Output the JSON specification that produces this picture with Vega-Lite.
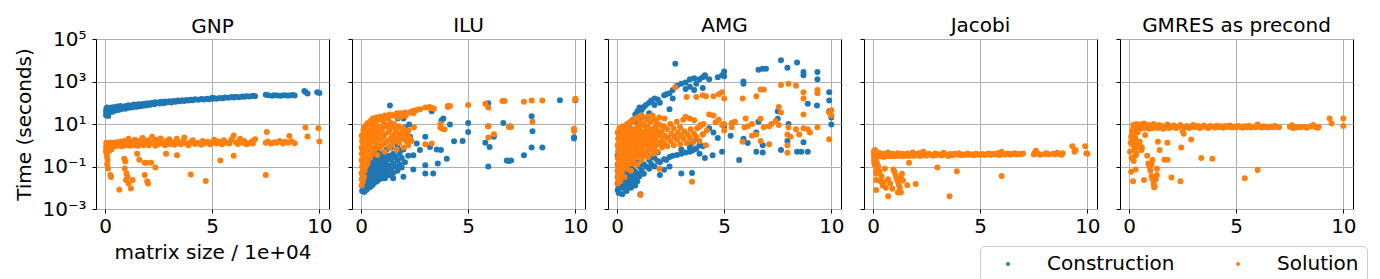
{
"$schema": "https://vega.github.io/schema/vega-lite/v6.json",
"padding": {"left": 14, "top": 15, "right": 5, "bottom": 5},
"background": "white",
"bounds": "flush",
"spacing": 23,
"config": {
  "font": "DejaVu Sans",
  "view": {"stroke": "#000000", "strokeWidth": 1},
  "axis": {"labelFontSize": 20, "titleFontSize": 20, "titleFontWeight": "normal", "labelColor": "#000000", "titleColor": "#000000", "tickColor": "#000000", "tickSize": 4, "tickWidth": 1, "domain": false, "grid": true, "gridColor": "#b0b0b0", "gridWidth": 1, "labelFlush": false, "labelPadding": 3, "titlePadding": 6},
  "axisY": {"labelPadding": 6, "titlePadding": 7},
  "title": {"fontSize": 20, "fontWeight": "normal", "color": "#000000", "offset": 3},
  "legend": {"orient": "none", "legendX": 884, "legendY": 207, "direction": "horizontal", "columns": 2, "labelFontSize": 20, "labelColor": "#000000", "symbolSize": 16, "symbolType": "circle", "labelOffset": 29, "columnPadding": 43, "padding": 8, "strokeColor": "#cccccc", "cornerRadius": 4, "fillColor": "white", "symbolOffset": 10, "titlePadding": 0}
},
"datasets": {
"gnp": [
{"s":"C","x":0.05,"y":26},{"s":"C","x":0.05,"y":38},{"s":"C","x":0.06,"y":52},{"s":"C","x":0.08,"y":30},{"s":"C","x":0.1,"y":44},{"s":"C","x":0.1,"y":60},{"s":"C","x":0.12,"y":34},{"s":"C","x":0.15,"y":48},{"s":"C","x":0.15,"y":24},{"s":"C","x":0.18,"y":40},{"s":"C","x":0.2,"y":55},{"s":"C","x":0.22,"y":36},{"s":"C","x":0.25,"y":46},{"s":"C","x":0.28,"y":58},{"s":"C","x":0.3,"y":42},{"s":"C","x":0.32,"y":50},{"s":"C","x":0.35,"y":38},{"s":"C","x":0.38,"y":62},{"s":"C","x":0.4,"y":46},{"s":"C","x":0.42,"y":54},{"s":"C","x":0.45,"y":42},{"s":"C","x":0.5,"y":58},{"s":"C","x":0.52,"y":48},{"s":"C","x":0.55,"y":66},{"s":"C","x":0.6,"y":52},{"s":"C","x":0.62,"y":45},{"s":"C","x":0.65,"y":60},{"s":"C","x":0.7,"y":54},{"s":"C","x":0.72,"y":70},{"s":"C","x":0.75,"y":50},{"s":"C","x":0.8,"y":62},{"s":"C","x":0.85,"y":56},{"s":"C","x":0.9,"y":66},{"s":"C","x":0.95,"y":52},{"s":"C","x":1.0,"y":70},{"s":"C","x":1.05,"y":60},{"s":"C","x":1.1,"y":76},{"s":"C","x":1.15,"y":58},{"s":"C","x":1.2,"y":66},{"s":"C","x":1.25,"y":72},{"s":"C","x":1.3,"y":62},{"s":"C","x":1.35,"y":82},{"s":"C","x":1.4,"y":68},{"s":"C","x":1.45,"y":74},{"s":"C","x":1.5,"y":64},{"s":"C","x":1.55,"y":84},{"s":"C","x":1.6,"y":72},{"s":"C","x":1.65,"y":68},{"s":"C","x":1.7,"y":86},{"s":"C","x":1.75,"y":78},{"s":"C","x":1.8,"y":72},{"s":"C","x":1.85,"y":90},{"s":"C","x":1.9,"y":82},{"s":"C","x":1.95,"y":76},{"s":"C","x":2.0,"y":95},{"s":"C","x":2.05,"y":85},{"s":"C","x":2.1,"y":80},{"s":"C","x":2.2,"y":100},{"s":"C","x":2.25,"y":90},{"s":"C","x":2.3,"y":85},{"s":"C","x":2.35,"y":105},{"s":"C","x":2.4,"y":94},{"s":"C","x":2.5,"y":100},{"s":"C","x":2.55,"y":92},{"s":"C","x":2.6,"y":110},{"s":"C","x":2.7,"y":104},{"s":"C","x":2.75,"y":96},{"s":"C","x":2.8,"y":115},{"s":"C","x":2.9,"y":106},{"s":"C","x":3.0,"y":118},{"s":"C","x":3.05,"y":108},{"s":"C","x":3.1,"y":102},{"s":"C","x":3.2,"y":120},{"s":"C","x":3.3,"y":112},{"s":"C","x":3.4,"y":126},{"s":"C","x":3.5,"y":118},{"s":"C","x":3.6,"y":130},{"s":"C","x":3.7,"y":122},{"s":"C","x":3.8,"y":135},{"s":"C","x":3.9,"y":127},{"s":"C","x":4.0,"y":140},{"s":"C","x":4.1,"y":132},{"s":"C","x":4.2,"y":146},{"s":"C","x":4.35,"y":138},{"s":"C","x":4.5,"y":150},{"s":"C","x":4.6,"y":142},{"s":"C","x":4.75,"y":156},{"s":"C","x":4.85,"y":148},{"s":"C","x":5.0,"y":172},{"s":"C","x":5.0,"y":154},{"s":"C","x":5.1,"y":164},{"s":"C","x":5.2,"y":154},{"s":"C","x":5.35,"y":168},{"s":"C","x":5.5,"y":162},{"s":"C","x":5.6,"y":176},{"s":"C","x":5.75,"y":170},{"s":"C","x":5.9,"y":184},{"s":"C","x":6.0,"y":178},{"s":"C","x":6.1,"y":192},{"s":"C","x":6.25,"y":182},{"s":"C","x":6.4,"y":198},{"s":"C","x":6.5,"y":190},{"s":"C","x":6.6,"y":202},{"s":"C","x":6.75,"y":196},{"s":"C","x":6.9,"y":212},{"s":"C","x":7.0,"y":202},{"s":"C","x":7.5,"y":240},{"s":"C","x":7.6,"y":228},{"s":"C","x":7.8,"y":215},{"s":"C","x":7.9,"y":225},{"s":"C","x":8.05,"y":218},{"s":"C","x":8.2,"y":214},{"s":"C","x":8.35,"y":226},{"s":"C","x":8.5,"y":220},{"s":"C","x":8.6,"y":222},{"s":"C","x":8.75,"y":232},{"s":"C","x":8.85,"y":218},{"s":"C","x":9.3,"y":360},{"s":"C","x":9.35,"y":320},{"s":"C","x":9.45,"y":270},{"s":"C","x":9.9,"y":310},{"s":"C","x":10.0,"y":285},
{"s":"S","x":0.05,"y":0.5},{"s":"S","x":0.05,"y":0.85},{"s":"S","x":0.06,"y":1.3},{"s":"S","x":0.08,"y":0.6},{"s":"S","x":0.1,"y":1.0},{"s":"S","x":0.12,"y":0.7},{"s":"S","x":0.15,"y":1.2},{"s":"S","x":0.15,"y":0.9},{"s":"S","x":0.2,"y":0.55},{"s":"S","x":0.2,"y":1.1},{"s":"S","x":0.25,"y":0.85},{"s":"S","x":0.28,"y":1.35},{"s":"S","x":0.3,"y":0.65},{"s":"S","x":0.32,"y":1.0},{"s":"S","x":0.35,"y":1.05},{"s":"S","x":0.4,"y":1.3},{"s":"S","x":0.45,"y":0.9},{"s":"S","x":0.5,"y":1.1},{"s":"S","x":0.55,"y":1.4},{"s":"S","x":0.6,"y":0.95},{"s":"S","x":0.65,"y":1.2},{"s":"S","x":0.7,"y":1.05},{"s":"S","x":0.75,"y":1.5},{"s":"S","x":0.8,"y":0.9},{"s":"S","x":0.85,"y":1.2},{"s":"S","x":0.9,"y":1.6},{"s":"S","x":0.95,"y":1.0},{"s":"S","x":1.0,"y":1.3},{"s":"S","x":1.05,"y":1.1},{"s":"S","x":1.1,"y":2.0},{"s":"S","x":1.15,"y":0.95},{"s":"S","x":1.2,"y":1.25},{"s":"S","x":1.3,"y":1.5},{"s":"S","x":1.35,"y":1.0},{"s":"S","x":1.4,"y":1.8},{"s":"S","x":1.45,"y":1.15},{"s":"S","x":1.5,"y":1.3},{"s":"S","x":1.55,"y":0.95},{"s":"S","x":1.6,"y":1.6},{"s":"S","x":1.7,"y":1.2},{"s":"S","x":1.75,"y":2.2},{"s":"S","x":1.8,"y":1.0},{"s":"S","x":1.85,"y":1.4},{"s":"S","x":1.9,"y":1.15},{"s":"S","x":2.0,"y":1.7},{"s":"S","x":2.05,"y":1.0},{"s":"S","x":2.1,"y":1.3},{"s":"S","x":2.2,"y":2.5},{"s":"S","x":2.25,"y":1.2},{"s":"S","x":2.3,"y":1.5},{"s":"S","x":2.35,"y":0.95},{"s":"S","x":2.4,"y":1.8},{"s":"S","x":2.5,"y":1.1},{"s":"S","x":2.55,"y":1.4},{"s":"S","x":2.6,"y":2.1},{"s":"S","x":2.7,"y":1.25},{"s":"S","x":2.8,"y":1.0},{"s":"S","x":2.85,"y":1.6},{"s":"S","x":2.9,"y":1.2},{"s":"S","x":3.0,"y":1.9},{"s":"S","x":3.05,"y":1.1},{"s":"S","x":3.15,"y":1.4},{"s":"S","x":3.25,"y":1.05},{"s":"S","x":3.35,"y":2.0},{"s":"S","x":3.45,"y":1.3},{"s":"S","x":3.55,"y":1.1},{"s":"S","x":3.65,"y":1.5},{"s":"S","x":3.7,"y":2.3},{"s":"S","x":3.8,"y":1.2},{"s":"S","x":3.9,"y":1.0},{"s":"S","x":4.0,"y":1.4},{"s":"S","x":4.1,"y":1.7},{"s":"S","x":4.2,"y":1.15},{"s":"S","x":4.35,"y":1.3},{"s":"S","x":4.5,"y":1.05},{"s":"S","x":4.55,"y":1.6},{"s":"S","x":4.65,"y":1.25},{"s":"S","x":4.8,"y":1.45},{"s":"S","x":4.9,"y":1.1},{"s":"S","x":5.0,"y":1.35},{"s":"S","x":5.1,"y":1.8},{"s":"S","x":5.2,"y":1.2},{"s":"S","x":5.3,"y":1.5},{"s":"S","x":5.45,"y":1.1},{"s":"S","x":5.55,"y":1.7},{"s":"S","x":5.65,"y":1.3},{"s":"S","x":5.8,"y":1.2},{"s":"S","x":5.9,"y":1.9},{"s":"S","x":6.0,"y":2.9},{"s":"S","x":6.1,"y":1.4},{"s":"S","x":6.2,"y":1.15},{"s":"S","x":6.3,"y":2.0},{"s":"S","x":6.4,"y":1.3},{"s":"S","x":6.5,"y":1.6},{"s":"S","x":6.6,"y":1.1},{"s":"S","x":6.7,"y":1.25},{"s":"S","x":6.85,"y":1.5},{"s":"S","x":6.9,"y":1.2},{"s":"S","x":7.0,"y":1.9},{"s":"S","x":7.5,"y":1.3},{"s":"S","x":7.55,"y":4.2},{"s":"S","x":7.6,"y":1.5},{"s":"S","x":7.75,"y":1.2},{"s":"S","x":7.9,"y":1.4},{"s":"S","x":8.0,"y":1.3},{"s":"S","x":8.15,"y":1.6},{"s":"S","x":8.3,"y":1.2},{"s":"S","x":8.4,"y":1.45},{"s":"S","x":8.55,"y":1.3},{"s":"S","x":8.6,"y":2.7},{"s":"S","x":8.7,"y":1.5},{"s":"S","x":8.85,"y":1.25},{"s":"S","x":9.35,"y":6.8},{"s":"S","x":9.45,"y":2.6},{"s":"S","x":9.95,"y":6.3},{"s":"S","x":10.0,"y":1.5},
{"s":"S","x":0.08,"y":0.4},{"s":"S","x":0.1,"y":0.28},{"s":"S","x":0.12,"y":0.2},{"s":"S","x":0.1,"y":0.126},{"s":"S","x":0.14,"y":0.08},{"s":"S","x":0.06,"y":0.6},{"s":"S","x":0.28,"y":0.032},{"s":"S","x":0.25,"y":0.04},{"s":"S","x":0.67,"y":0.008},{"s":"S","x":0.9,"y":0.23},{"s":"S","x":0.95,"y":0.17},{"s":"S","x":0.92,"y":0.08},{"s":"S","x":1.0,"y":0.047},{"s":"S","x":1.05,"y":0.033},{"s":"S","x":0.98,"y":0.023},{"s":"S","x":1.1,"y":0.016},{"s":"S","x":1.21,"y":0.0093},{"s":"S","x":1.29,"y":0.023},{"s":"S","x":1.5,"y":0.4},{"s":"S","x":1.6,"y":0.21},{"s":"S","x":1.85,"y":0.15},{"s":"S","x":1.95,"y":0.15},{"s":"S","x":1.85,"y":0.04},{"s":"S","x":1.97,"y":0.02},{"s":"S","x":2.0,"y":0.016},{"s":"S","x":2.15,"y":0.15},{"s":"S","x":2.35,"y":0.089},{"s":"S","x":2.85,"y":0.4},{"s":"S","x":3.36,"y":0.34},{"s":"S","x":4.0,"y":0.042},{"s":"S","x":4.7,"y":0.021},{"s":"S","x":5.38,"y":0.19},{"s":"S","x":6.0,"y":0.32},{"s":"S","x":7.5,"y":0.04}
],
"ilu": [
{"s":"C","x":0.05,"y":0.0071},{"s":"C","x":0.05,"y":0.0126},{"s":"C","x":0.05,"y":0.025},{"s":"C","x":0.05,"y":0.05},{"s":"C","x":0.1,"y":0.0089},{"s":"C","x":0.1,"y":0.018},{"s":"C","x":0.1,"y":0.035},{"s":"C","x":0.15,"y":0.0063},{"s":"C","x":0.15,"y":0.014},{"s":"C","x":0.15,"y":0.032},{"s":"C","x":0.15,"y":0.079},{"s":"C","x":0.2,"y":0.011},{"s":"C","x":0.2,"y":0.025},{"s":"C","x":0.2,"y":0.056},{"s":"C","x":0.25,"y":0.0079},{"s":"C","x":0.25,"y":0.02},{"s":"C","x":0.25,"y":0.045},{"s":"C","x":0.25,"y":0.126},{"s":"C","x":0.3,"y":0.014},{"s":"C","x":0.3,"y":0.032},{"s":"C","x":0.3,"y":0.079},{"s":"C","x":0.35,"y":0.01},{"s":"C","x":0.35,"y":0.025},{"s":"C","x":0.35,"y":0.063},{"s":"C","x":0.35,"y":0.16},{"s":"C","x":0.4,"y":0.016},{"s":"C","x":0.4,"y":0.04},{"s":"C","x":0.4,"y":0.1},{"s":"C","x":0.45,"y":0.011},{"s":"C","x":0.45,"y":0.028},{"s":"C","x":0.45,"y":0.079},{"s":"C","x":0.45,"y":0.25},{"s":"C","x":0.5,"y":0.02},{"s":"C","x":0.5,"y":0.05},{"s":"C","x":0.5,"y":0.14},{"s":"C","x":0.55,"y":0.014},{"s":"C","x":0.55,"y":0.035},{"s":"C","x":0.55,"y":0.1},{"s":"C","x":0.55,"y":0.32},{"s":"C","x":0.6,"y":0.025},{"s":"C","x":0.6,"y":0.063},{"s":"C","x":0.6,"y":0.18},{"s":"C","x":0.65,"y":0.018},{"s":"C","x":0.65,"y":0.045},{"s":"C","x":0.65,"y":0.126},{"s":"C","x":0.7,"y":0.032},{"s":"C","x":0.7,"y":0.089},{"s":"C","x":0.7,"y":0.25},{"s":"C","x":0.75,"y":0.02},{"s":"C","x":0.75,"y":0.056},{"s":"C","x":0.75,"y":0.16},{"s":"C","x":0.75,"y":0.5},{"s":"C","x":0.8,"y":0.035},{"s":"C","x":0.8,"y":0.1},{"s":"C","x":0.8,"y":0.28},{"s":"C","x":0.85,"y":0.025},{"s":"C","x":0.85,"y":0.071},{"s":"C","x":0.85,"y":0.2},{"s":"C","x":0.9,"y":0.045},{"s":"C","x":0.9,"y":0.126},{"s":"C","x":0.9,"y":0.4},{"s":"C","x":0.95,"y":0.028},{"s":"C","x":0.95,"y":0.079},{"s":"C","x":0.95,"y":0.22},{"s":"C","x":1.0,"y":0.05},{"s":"C","x":1.0,"y":0.14},{"s":"C","x":1.0,"y":0.35},{"s":"C","x":1.05,"y":0.032},{"s":"C","x":1.05,"y":0.1},{"s":"C","x":1.05,"y":0.25},{"s":"C","x":1.1,"y":0.056},{"s":"C","x":1.1,"y":0.16},{"s":"C","x":1.1,"y":0.5},{"s":"C","x":1.15,"y":0.035},{"s":"C","x":1.15,"y":0.089},{"s":"C","x":1.15,"y":0.28},{"s":"C","x":1.2,"y":0.063},{"s":"C","x":1.2,"y":0.2},{"s":"C","x":1.2,"y":0.63},{"s":"C","x":1.3,"y":0.04},{"s":"C","x":1.3,"y":0.11},{"s":"C","x":1.3,"y":0.32},{"s":"C","x":1.35,"y":75},{"s":"C","x":1.4,"y":0.071},{"s":"C","x":1.4,"y":0.22},{"s":"C","x":1.4,"y":0.79},{"s":"C","x":1.5,"y":0.05},{"s":"C","x":1.5,"y":0.14},{"s":"C","x":1.5,"y":0.4},{"s":"C","x":1.5,"y":1.6},{"s":"C","x":1.6,"y":0.1},{"s":"C","x":1.6,"y":0.28},{"s":"C","x":1.7,"y":0.063},{"s":"C","x":1.7,"y":0.2},{"s":"C","x":1.7,"y":1.0},{"s":"C","x":1.71,"y":18},{"s":"C","x":1.8,"y":0.126},{"s":"C","x":1.8,"y":0.4},{"s":"C","x":1.8,"y":3.2},{"s":"C","x":1.9,"y":0.089},{"s":"C","x":1.9,"y":0.25},{"s":"C","x":1.98,"y":0.033},{"s":"C","x":1.98,"y":18},{"s":"C","x":1.98,"y":0.63},{"s":"C","x":2.05,"y":6.8},{"s":"C","x":2.05,"y":0.16},{"s":"C","x":2.2,"y":0.32},{"s":"C","x":2.2,"y":2.0},{"s":"C","x":2.25,"y":9.6},{"s":"C","x":2.44,"y":0.072},{"s":"C","x":2.44,"y":0.34},{"s":"C","x":2.75,"y":0.59},{"s":"C","x":3.0,"y":2.5},{"s":"C","x":2.6,"y":1.2},{"s":"C","x":2.29,"y":2.5},{"s":"C","x":1.82,"y":2.4},{"s":"C","x":1.85,"y":0.6},{"s":"C","x":3.3,"y":40},{"s":"C","x":3.76,"y":15},{"s":"C","x":3.84,"y":18},{"s":"C","x":4.15,"y":9.6},{"s":"C","x":5.0,"y":11},{"s":"C","x":5.0,"y":4.2},{"s":"C","x":5.94,"y":95},{"s":"C","x":5.94,"y":7.9},{"s":"C","x":6.64,"y":11},{"s":"C","x":6.95,"y":7.9},{"s":"C","x":7.96,"y":23},{"s":"C","x":8.0,"y":4.6},{"s":"C","x":9.28,"y":130},{"s":"C","x":10.0,"y":130},{"s":"C","x":9.94,"y":2.4},{"s":"C","x":9.94,"y":2.1},{"s":"C","x":5.8,"y":1.3},{"s":"C","x":6.0,"y":0.83},{"s":"C","x":6.2,"y":2.5},{"s":"C","x":5.94,"y":0.1},{"s":"C","x":6.8,"y":0.19},{"s":"C","x":6.9,"y":0.18},{"s":"C","x":7.0,"y":0.19},{"s":"C","x":7.6,"y":0.34},{"s":"C","x":7.96,"y":0.78},{"s":"C","x":8.46,"y":0.78},{"s":"C","x":4.74,"y":1.6},{"s":"C","x":4.34,"y":1.55},{"s":"C","x":4.0,"y":0.23},{"s":"C","x":3.73,"y":0.59},{"s":"C","x":3.53,"y":0.63},{"s":"C","x":3.58,"y":0.14},{"s":"C","x":3.0,"y":0.115},{"s":"C","x":3.0,"y":0.047},{"s":"C","x":3.37,"y":0.047},{"s":"C","x":1.5,"y":0.028},{"s":"C","x":1.12,"y":0.028},{"s":"C","x":3.22,"y":0.83},{"s":"C","x":2.0,"y":2.5},
{"s":"S","x":0.03,"y":0.0126},{"s":"S","x":0.04,"y":0.025},{"s":"S","x":0.03,"y":0.05},{"s":"S","x":0.05,"y":0.1},{"s":"S","x":0.03,"y":0.2},{"s":"S","x":0.04,"y":0.4},{"s":"S","x":0.03,"y":0.79},{"s":"S","x":0.05,"y":1.6},{"s":"S","x":0.03,"y":2.8},{"s":"S","x":0.09,"y":0.02},{"s":"S","x":0.07,"y":0.04},{"s":"S","x":0.1,"y":0.079},{"s":"S","x":0.08,"y":0.16},{"s":"S","x":0.11,"y":0.32},{"s":"S","x":0.07,"y":0.63},{"s":"S","x":0.1,"y":1.26},{"s":"S","x":0.08,"y":2.5},{"s":"S","x":0.11,"y":5},{"s":"S","x":0.14,"y":0.032},{"s":"S","x":0.17,"y":0.063},{"s":"S","x":0.13,"y":0.126},{"s":"S","x":0.18,"y":0.25},{"s":"S","x":0.14,"y":0.5},{"s":"S","x":0.19,"y":1},{"s":"S","x":0.15,"y":2},{"s":"S","x":0.18,"y":4},{"s":"S","x":0.14,"y":7.1},{"s":"S","x":0.22,"y":0.1},{"s":"S","x":0.26,"y":0.2},{"s":"S","x":0.21,"y":0.4},{"s":"S","x":0.27,"y":0.79},{"s":"S","x":0.23,"y":1.6},{"s":"S","x":0.28,"y":3.2},{"s":"S","x":0.22,"y":6.3},{"s":"S","x":0.27,"y":10},{"s":"S","x":0.31,"y":0.14},{"s":"S","x":0.36,"y":0.32},{"s":"S","x":0.3,"y":0.63},{"s":"S","x":0.37,"y":1.26},{"s":"S","x":0.32,"y":2.5},{"s":"S","x":0.38,"y":5},{"s":"S","x":0.33,"y":11},{"s":"S","x":0.42,"y":0.25},{"s":"S","x":0.47,"y":0.5},{"s":"S","x":0.41,"y":1},{"s":"S","x":0.48,"y":2},{"s":"S","x":0.43,"y":4},{"s":"S","x":0.49,"y":7.9},{"s":"S","x":0.44,"y":14},{"s":"S","x":0.53,"y":0.4},{"s":"S","x":0.58,"y":0.79},{"s":"S","x":0.52,"y":1.6},{"s":"S","x":0.59,"y":3.2},{"s":"S","x":0.54,"y":6.3},{"s":"S","x":0.6,"y":12.6},{"s":"S","x":0.55,"y":18},{"s":"S","x":0.64,"y":0.63},{"s":"S","x":0.69,"y":1.26},{"s":"S","x":0.63,"y":2.5},{"s":"S","x":0.7,"y":5},{"s":"S","x":0.66,"y":10},{"s":"S","x":0.71,"y":20},{"s":"S","x":0.76,"y":0.35},{"s":"S","x":0.8,"y":1},{"s":"S","x":0.74,"y":2},{"s":"S","x":0.82,"y":4},{"s":"S","x":0.77,"y":7.9},{"s":"S","x":0.83,"y":16},{"s":"S","x":0.88,"y":0.79},{"s":"S","x":0.93,"y":1.8},{"s":"S","x":0.87,"y":3.5},{"s":"S","x":0.94,"y":7.1},{"s":"S","x":0.89,"y":22},{"s":"S","x":0.99,"y":1},{"s":"S","x":1.04,"y":2.5},{"s":"S","x":0.98,"y":5.6},{"s":"S","x":1.05,"y":12.6},{"s":"S","x":1.0,"y":20},{"s":"S","x":1.1,"y":0.5},{"s":"S","x":1.16,"y":1.26},{"s":"S","x":1.09,"y":3.2},{"s":"S","x":1.17,"y":8.9},{"s":"S","x":1.12,"y":25},{"s":"S","x":1.22,"y":1.6},{"s":"S","x":1.27,"y":4},{"s":"S","x":1.21,"y":7.9},{"s":"S","x":1.28,"y":18},{"s":"S","x":1.33,"y":0.79},{"s":"S","x":1.38,"y":2},{"s":"S","x":1.32,"y":5},{"s":"S","x":1.39,"y":11},{"s":"S","x":1.34,"y":28},{"s":"S","x":1.44,"y":1},{"s":"S","x":1.49,"y":2.8},{"s":"S","x":1.43,"y":7.1},{"s":"S","x":1.5,"y":25},{"s":"S","x":1.55,"y":1.6},{"s":"S","x":1.6,"y":4},{"s":"S","x":1.54,"y":10},{"s":"S","x":1.61,"y":28},{"s":"S","x":1.66,"y":0.63},{"s":"S","x":1.71,"y":2.2},{"s":"S","x":1.65,"y":5.6},{"s":"S","x":1.72,"y":20},{"s":"S","x":1.68,"y":32},{"s":"S","x":1.77,"y":1.26},{"s":"S","x":1.82,"y":3.2},{"s":"S","x":1.76,"y":7.9},{"s":"S","x":1.83,"y":32},{"s":"S","x":1.88,"y":2},{"s":"S","x":1.93,"y":4.5},{"s":"S","x":1.87,"y":22},{"s":"S","x":1.99,"y":0.79},{"s":"S","x":2.04,"y":2.5},{"s":"S","x":1.98,"y":6.3},{"s":"S","x":2.05,"y":35},{"s":"S","x":2.1,"y":1.6},{"s":"S","x":2.15,"y":3.5},{"s":"S","x":2.09,"y":25},{"s":"S","x":2.2,"y":1},{"s":"S","x":2.26,"y":2.2},{"s":"S","x":2.21,"y":5},{"s":"S","x":2.27,"y":35},{"s":"S","x":2.35,"y":1.6},{"s":"S","x":2.38,"y":40},{"s":"S","x":2.45,"y":32},{"s":"S","x":2.5,"y":42},{"s":"S","x":2.47,"y":7.1},{"s":"S","x":2.6,"y":45},{"s":"S","x":2.75,"y":50},{"s":"S","x":3.0,"y":60},{"s":"S","x":3.0,"y":1.1},{"s":"S","x":3.2,"y":56},{"s":"S","x":3.2,"y":63},{"s":"S","x":3.3,"y":1.2},{"s":"S","x":3.3,"y":58},{"s":"S","x":3.4,"y":52},{"s":"S","x":3.7,"y":6.8},{"s":"S","x":3.7,"y":10},{"s":"S","x":3.8,"y":6},{"s":"S","x":3.9,"y":5.6},{"s":"S","x":4.05,"y":63},{"s":"S","x":4.05,"y":71},{"s":"S","x":4.15,"y":71},{"s":"S","x":5.0,"y":79},{"s":"S","x":5.8,"y":89},{"s":"S","x":5.94,"y":59},{"s":"S","x":5.94,"y":7.9},{"s":"S","x":5.94,"y":2.3},{"s":"S","x":6.2,"y":3.3},{"s":"S","x":6.6,"y":120},{"s":"S","x":6.7,"y":120},{"s":"S","x":6.9,"y":7.2},{"s":"S","x":7.0,"y":7.2},{"s":"S","x":7.6,"y":112},{"s":"S","x":7.96,"y":126},{"s":"S","x":8.0,"y":12.6},{"s":"S","x":8.46,"y":126},{"s":"S","x":9.94,"y":6},{"s":"S","x":9.94,"y":4.7},{"s":"S","x":10.0,"y":155},{"s":"S","x":10.0,"y":141}
],
"amg": [
{"s":"C","x":0.03,"y":0.0079},{"s":"C","x":0.03,"y":0.016},{"s":"C","x":0.03,"y":0.032},{"s":"C","x":0.03,"y":0.063},{"s":"C","x":0.03,"y":0.126},{"s":"C","x":0.03,"y":0.32},{"s":"C","x":0.08,"y":0.0056},{"s":"C","x":0.08,"y":0.011},{"s":"C","x":0.08,"y":0.022},{"s":"C","x":0.08,"y":0.045},{"s":"C","x":0.08,"y":0.1},{"s":"C","x":0.08,"y":0.25},{"s":"C","x":0.08,"y":0.63},{"s":"C","x":0.15,"y":0.01},{"s":"C","x":0.15,"y":0.02},{"s":"C","x":0.15,"y":0.04},{"s":"C","x":0.15,"y":0.079},{"s":"C","x":0.15,"y":0.2},{"s":"C","x":0.15,"y":0.5},{"s":"C","x":0.15,"y":1.6},{"s":"C","x":0.25,"y":0.005},{"s":"C","x":0.25,"y":0.0126},{"s":"C","x":0.25,"y":0.025},{"s":"C","x":0.25,"y":0.056},{"s":"C","x":0.25,"y":0.126},{"s":"C","x":0.25,"y":0.32},{"s":"C","x":0.25,"y":1},{"s":"C","x":0.35,"y":0.0089},{"s":"C","x":0.35,"y":0.018},{"s":"C","x":0.35,"y":0.035},{"s":"C","x":0.35,"y":0.079},{"s":"C","x":0.35,"y":0.25},{"s":"C","x":0.35,"y":2.5},{"s":"C","x":0.45,"y":0.0071},{"s":"C","x":0.45,"y":0.014},{"s":"C","x":0.45,"y":0.032},{"s":"C","x":0.45,"y":0.063},{"s":"C","x":0.45,"y":0.16},{"s":"C","x":0.45,"y":4},{"s":"C","x":0.55,"y":0.011},{"s":"C","x":0.55,"y":0.022},{"s":"C","x":0.55,"y":0.05},{"s":"C","x":0.55,"y":0.4},{"s":"C","x":0.55,"y":7.9},{"s":"C","x":0.65,"y":0.01},{"s":"C","x":0.65,"y":0.02},{"s":"C","x":0.65,"y":0.04},{"s":"C","x":0.65,"y":0.1},{"s":"C","x":0.65,"y":2},{"s":"C","x":0.65,"y":12.6},{"s":"C","x":0.75,"y":0.016},{"s":"C","x":0.75,"y":0.032},{"s":"C","x":0.75,"y":0.071},{"s":"C","x":0.75,"y":0.32},{"s":"C","x":0.75,"y":16},{"s":"C","x":0.85,"y":0.0126},{"s":"C","x":0.85,"y":0.025},{"s":"C","x":0.85,"y":0.056},{"s":"C","x":0.85,"y":5},{"s":"C","x":0.85,"y":28},{"s":"C","x":0.95,"y":0.02},{"s":"C","x":0.95,"y":0.045},{"s":"C","x":0.95,"y":0.16},{"s":"C","x":0.95,"y":10},{"s":"C","x":0.95,"y":40},{"s":"C","x":1.05,"y":0.035},{"s":"C","x":1.05,"y":0.1},{"s":"C","x":1.05,"y":20},{"s":"C","x":1.05,"y":59},{"s":"C","x":1.09,"y":0.005},{"s":"C","x":1.15,"y":0.063},{"s":"C","x":1.15,"y":0.25},{"s":"C","x":1.15,"y":45},{"s":"C","x":1.25,"y":0.045},{"s":"C","x":1.25,"y":0.126},{"s":"C","x":1.25,"y":3.2},{"s":"C","x":1.25,"y":63},{"s":"C","x":1.35,"y":0.1},{"s":"C","x":1.35,"y":0.4},{"s":"C","x":1.35,"y":79},{"s":"C","x":1.5,"y":0.079},{"s":"C","x":1.5,"y":0.2},{"s":"C","x":1.5,"y":100},{"s":"C","x":1.5,"y":32},{"s":"C","x":1.6,"y":0.126},{"s":"C","x":1.6,"y":0.32},{"s":"C","x":1.6,"y":126},{"s":"C","x":1.75,"y":0.1},{"s":"C","x":1.75,"y":0.25},{"s":"C","x":1.75,"y":79},{"s":"C","x":1.75,"y":158},{"s":"C","x":1.9,"y":0.18},{"s":"C","x":1.9,"y":0.45},{"s":"C","x":1.9,"y":141},{"s":"C","x":2.0,"y":0.04},{"s":"C","x":2.0,"y":0.16},{"s":"C","x":2.0,"y":100},{"s":"C","x":2.2,"y":0.22},{"s":"C","x":2.2,"y":0.071},{"s":"C","x":2.2,"y":224},{"s":"C","x":2.3,"y":0.2},{"s":"C","x":2.3,"y":251},{"s":"C","x":2.45,"y":0.1},{"s":"C","x":2.45,"y":0.28},{"s":"C","x":2.45,"y":282},{"s":"C","x":2.45,"y":50},{"s":"C","x":2.6,"y":0.32},{"s":"C","x":2.6,"y":398},{"s":"C","x":2.6,"y":158},{"s":"C","x":2.72,"y":6760},{"s":"C","x":2.8,"y":0.35},{"s":"C","x":2.8,"y":631},{"s":"C","x":3.0,"y":0.047},{"s":"C","x":3.0,"y":0.4},{"s":"C","x":3.0,"y":0.63},{"s":"C","x":3.0,"y":794},{"s":"C","x":3.2,"y":0.45},{"s":"C","x":3.2,"y":891},{"s":"C","x":3.2,"y":447},{"s":"C","x":3.4,"y":0.5},{"s":"C","x":3.4,"y":1259},{"s":"C","x":3.4,"y":562},{"s":"C","x":3.4,"y":0.79},{"s":"C","x":3.5,"y":0.05},{"s":"C","x":3.5,"y":0.56},{"s":"C","x":3.5,"y":1.26},{"s":"C","x":3.6,"y":0.63},{"s":"C","x":3.6,"y":1413},{"s":"C","x":3.6,"y":398},{"s":"C","x":3.7,"y":794},{"s":"C","x":3.7,"y":0.71},{"s":"C","x":3.7,"y":2},{"s":"C","x":3.85,"y":0.4},{"s":"C","x":3.85,"y":1259},{"s":"C","x":3.85,"y":1},{"s":"C","x":4.0,"y":1585},{"s":"C","x":4.0,"y":501},{"s":"C","x":4.0,"y":0.89},{"s":"C","x":4.0,"y":3.2},{"s":"C","x":4.1,"y":1778},{"s":"C","x":4.1,"y":1995},{"s":"C","x":4.1,"y":0.25},{"s":"C","x":4.3,"y":1259},{"s":"C","x":4.3,"y":6.3},{"s":"C","x":4.46,"y":0.34},{"s":"C","x":4.5,"y":4},{"s":"C","x":4.7,"y":1585},{"s":"C","x":4.7,"y":2.2},{"s":"C","x":4.9,"y":1995},{"s":"C","x":4.9,"y":0.5},{"s":"C","x":5.0,"y":2951},{"s":"C","x":5.0,"y":1778},{"s":"C","x":5.0,"y":7.9},{"s":"C","x":5.3,"y":2.8},{"s":"C","x":5.7,"y":0.2},{"s":"C","x":5.9,"y":1000},{"s":"C","x":5.9,"y":794},{"s":"C","x":5.9,"y":2},{"s":"C","x":6.1,"y":1.26},{"s":"C","x":6.5,"y":0.5},{"s":"C","x":6.5,"y":4},{"s":"C","x":6.6,"y":12.6},{"s":"C","x":6.6,"y":3548},{"s":"C","x":6.8,"y":3981},{"s":"C","x":6.8,"y":0.45},{"s":"C","x":6.8,"y":1},{"s":"C","x":6.95,"y":3981},{"s":"C","x":7.5,"y":40},{"s":"C","x":7.5,"y":17.8},{"s":"C","x":7.65,"y":10000},{"s":"C","x":7.65,"y":0.59},{"s":"C","x":7.95,"y":1.6},{"s":"C","x":7.95,"y":4467},{"s":"C","x":8.0,"y":10},{"s":"C","x":8.4,"y":7943},{"s":"C","x":8.4,"y":0.5},{"s":"C","x":8.6,"y":0.5},{"s":"C","x":8.7,"y":2818},{"s":"C","x":8.7,"y":1995},{"s":"C","x":8.7,"y":1.4},{"s":"C","x":8.9,"y":0.5},{"s":"C","x":8.9,"y":89},{"s":"C","x":9.33,"y":75},{"s":"C","x":9.35,"y":2818},{"s":"C","x":9.35,"y":1259},{"s":"C","x":9.9,"y":316},{"s":"C","x":9.9,"y":126},{"s":"C","x":9.9,"y":40},{"s":"C","x":10.0,"y":9.5},{"s":"C","x":10.0,"y":20},
{"s":"S","x":0.03,"y":0.016},{"s":"S","x":0.05,"y":0.032},{"s":"S","x":0.03,"y":0.063},{"s":"S","x":0.05,"y":0.126},{"s":"S","x":0.03,"y":0.25},{"s":"S","x":0.05,"y":0.5},{"s":"S","x":0.03,"y":1},{"s":"S","x":0.05,"y":2},{"s":"S","x":0.03,"y":4},{"s":"S","x":0.09,"y":0.025},{"s":"S","x":0.07,"y":0.05},{"s":"S","x":0.1,"y":0.1},{"s":"S","x":0.08,"y":0.2},{"s":"S","x":0.11,"y":0.4},{"s":"S","x":0.07,"y":0.79},{"s":"S","x":0.1,"y":1.6},{"s":"S","x":0.08,"y":3.2},{"s":"S","x":0.11,"y":6.3},{"s":"S","x":0.15,"y":0.02},{"s":"S","x":0.18,"y":0.04},{"s":"S","x":0.14,"y":0.079},{"s":"S","x":0.19,"y":0.16},{"s":"S","x":0.15,"y":0.32},{"s":"S","x":0.18,"y":0.63},{"s":"S","x":0.14,"y":1.26},{"s":"S","x":0.19,"y":2.5},{"s":"S","x":0.16,"y":5.6},{"s":"S","x":0.24,"y":0.063},{"s":"S","x":0.28,"y":0.126},{"s":"S","x":0.23,"y":0.25},{"s":"S","x":0.29,"y":0.5},{"s":"S","x":0.25,"y":1},{"s":"S","x":0.28,"y":2},{"s":"S","x":0.23,"y":4},{"s":"S","x":0.27,"y":7.9},{"s":"S","x":0.35,"y":0.032},{"s":"S","x":0.38,"y":0.1},{"s":"S","x":0.33,"y":0.2},{"s":"S","x":0.39,"y":0.4},{"s":"S","x":0.34,"y":0.79},{"s":"S","x":0.38,"y":1.6},{"s":"S","x":0.33,"y":3.2},{"s":"S","x":0.37,"y":7.1},{"s":"S","x":0.44,"y":0.079},{"s":"S","x":0.48,"y":0.16},{"s":"S","x":0.43,"y":0.32},{"s":"S","x":0.49,"y":0.63},{"s":"S","x":0.45,"y":1.26},{"s":"S","x":0.48,"y":2.5},{"s":"S","x":0.43,"y":5},{"s":"S","x":0.47,"y":10},{"s":"S","x":0.55,"y":0.126},{"s":"S","x":0.59,"y":0.25},{"s":"S","x":0.54,"y":0.5},{"s":"S","x":0.58,"y":1},{"s":"S","x":0.53,"y":2},{"s":"S","x":0.57,"y":4},{"s":"S","x":0.55,"y":11},{"s":"S","x":0.65,"y":0.063},{"s":"S","x":0.69,"y":0.2},{"s":"S","x":0.64,"y":0.4},{"s":"S","x":0.68,"y":0.79},{"s":"S","x":0.63,"y":1.6},{"s":"S","x":0.67,"y":3.2},{"s":"S","x":0.64,"y":6.3},{"s":"S","x":0.66,"y":14},{"s":"S","x":0.75,"y":0.14},{"s":"S","x":0.79,"y":0.32},{"s":"S","x":0.74,"y":0.71},{"s":"S","x":0.78,"y":1.4},{"s":"S","x":0.73,"y":2.8},{"s":"S","x":0.77,"y":5.6},{"s":"S","x":0.75,"y":12.6},{"s":"S","x":0.85,"y":0.25},{"s":"S","x":0.89,"y":0.5},{"s":"S","x":0.84,"y":1.1},{"s":"S","x":0.88,"y":2.2},{"s":"S","x":0.83,"y":4.5},{"s":"S","x":0.86,"y":18},{"s":"S","x":0.95,"y":0.126},{"s":"S","x":0.99,"y":0.4},{"s":"S","x":0.94,"y":0.79},{"s":"S","x":0.98,"y":1.8},{"s":"S","x":0.93,"y":3.5},{"s":"S","x":0.97,"y":7.9},{"s":"S","x":0.95,"y":20},{"s":"S","x":1.05,"y":0.32},{"s":"S","x":1.09,"y":0.63},{"s":"S","x":1.04,"y":1.26},{"s":"S","x":1.08,"y":2.5},{"s":"S","x":1.03,"y":5.6},{"s":"S","x":1.06,"y":12.6},{"s":"S","x":1.09,"y":0.0045},{"s":"S","x":1.15,"y":0.2},{"s":"S","x":1.19,"y":0.56},{"s":"S","x":1.14,"y":1.1},{"s":"S","x":1.18,"y":2.2},{"s":"S","x":1.13,"y":4.5},{"s":"S","x":1.17,"y":10},{"s":"S","x":1.15,"y":25},{"s":"S","x":1.25,"y":0.35},{"s":"S","x":1.29,"y":1},{"s":"S","x":1.24,"y":2},{"s":"S","x":1.28,"y":4},{"s":"S","x":1.23,"y":8.9},{"s":"S","x":1.26,"y":20},{"s":"S","x":1.35,"y":0.5},{"s":"S","x":1.39,"y":1.4},{"s":"S","x":1.34,"y":2.8},{"s":"S","x":1.38,"y":6.3},{"s":"S","x":1.36,"y":16},{"s":"S","x":1.45,"y":0.28},{"s":"S","x":1.49,"y":0.79},{"s":"S","x":1.44,"y":1.8},{"s":"S","x":1.48,"y":3.5},{"s":"S","x":1.43,"y":7.9},{"s":"S","x":1.46,"y":22},{"s":"S","x":1.55,"y":0.63},{"s":"S","x":1.59,"y":1.26},{"s":"S","x":1.54,"y":2.5},{"s":"S","x":1.58,"y":5.6},{"s":"S","x":1.56,"y":12.6},{"s":"S","x":1.65,"y":0.4},{"s":"S","x":1.69,"y":1},{"s":"S","x":1.64,"y":2},{"s":"S","x":1.68,"y":4.5},{"s":"S","x":1.66,"y":25},{"s":"S","x":1.75,"y":0.71},{"s":"S","x":1.79,"y":1.6},{"s":"S","x":1.74,"y":3.2},{"s":"S","x":1.78,"y":7.1},{"s":"S","x":1.76,"y":16},{"s":"S","x":1.85,"y":0.5},{"s":"S","x":1.89,"y":1.1},{"s":"S","x":1.84,"y":2.5},{"s":"S","x":1.88,"y":5},{"s":"S","x":1.86,"y":11},{"s":"S","x":1.98,"y":0.079},{"s":"S","x":2.0,"y":1.4},{"s":"S","x":1.96,"y":3.2},{"s":"S","x":2.01,"y":8.9},{"s":"S","x":1.97,"y":20},{"s":"S","x":2.1,"y":0.79},{"s":"S","x":2.14,"y":2},{"s":"S","x":2.08,"y":4.5},{"s":"S","x":2.2,"y":1.26},{"s":"S","x":2.24,"y":2.8},{"s":"S","x":2.19,"y":7.9},{"s":"S","x":2.22,"y":18},{"s":"S","x":2.35,"y":0.89},{"s":"S","x":2.39,"y":2.2},{"s":"S","x":2.34,"y":5.6},{"s":"S","x":2.5,"y":1.6},{"s":"S","x":2.54,"y":3.5},{"s":"S","x":2.49,"y":10},{"s":"S","x":2.65,"y":1},{"s":"S","x":2.69,"y":2.5},{"s":"S","x":2.64,"y":6.3},{"s":"S","x":2.72,"y":537},{"s":"S","x":2.8,"y":1.8},{"s":"S","x":2.84,"y":4},{"s":"S","x":2.79,"y":12.6},{"s":"S","x":2.95,"y":1.1},{"s":"S","x":2.99,"y":2.8},{"s":"S","x":2.94,"y":7.1},{"s":"S","x":3.1,"y":2},{"s":"S","x":3.14,"y":4.5},{"s":"S","x":3.09,"y":16},{"s":"S","x":3.2,"y":22},{"s":"S","x":3.25,"y":1.26},{"s":"S","x":3.29,"y":3.2},{"s":"S","x":3.25,"y":186},{"s":"S","x":3.4,"y":2.2},{"s":"S","x":3.44,"y":5.6},{"s":"S","x":3.39,"y":18},{"s":"S","x":3.5,"y":0.019},{"s":"S","x":3.55,"y":1.4},{"s":"S","x":3.59,"y":3.5},{"s":"S","x":3.6,"y":15},{"s":"S","x":3.7,"y":2.5},{"s":"S","x":3.74,"y":6.3},{"s":"S","x":3.7,"y":186},{"s":"S","x":3.85,"y":1.6},{"s":"S","x":3.89,"y":8.9},{"s":"S","x":3.9,"y":8},{"s":"S","x":4.0,"y":3.2},{"s":"S","x":4.04,"y":10},{"s":"S","x":4.0,"y":224},{"s":"S","x":4.15,"y":1},{"s":"S","x":4.19,"y":5},{"s":"S","x":4.15,"y":200},{"s":"S","x":4.3,"y":28},{"s":"S","x":4.5,"y":25},{"s":"S","x":4.5,"y":200},{"s":"S","x":4.6,"y":12},{"s":"S","x":4.75,"y":16},{"s":"S","x":4.75,"y":251},{"s":"S","x":4.9,"y":316},{"s":"S","x":4.9,"y":8.9},{"s":"S","x":5.0,"y":158},{"s":"S","x":5.0,"y":5},{"s":"S","x":5.0,"y":10},{"s":"S","x":5.35,"y":7.1},{"s":"S","x":5.35,"y":11},{"s":"S","x":5.5,"y":12.6},{"s":"S","x":5.86,"y":1.45},{"s":"S","x":5.86,"y":158},{"s":"S","x":5.95,"y":7.1},{"s":"S","x":6.0,"y":18},{"s":"S","x":6.1,"y":7.9},{"s":"S","x":6.3,"y":10},{"s":"S","x":6.3,"y":2.8},{"s":"S","x":6.5,"y":200},{"s":"S","x":6.5,"y":3.2},{"s":"S","x":6.7,"y":417},{"s":"S","x":6.7,"y":17.8},{"s":"S","x":6.7,"y":1.6},{"s":"S","x":6.85,"y":417},{"s":"S","x":6.85,"y":7.1},{"s":"S","x":7.1,"y":1.1},{"s":"S","x":7.1,"y":7.9},{"s":"S","x":7.2,"y":10},{"s":"S","x":7.4,"y":14},{"s":"S","x":7.55,"y":63},{"s":"S","x":7.55,"y":8.9},{"s":"S","x":7.65,"y":692},{"s":"S","x":7.65,"y":35},{"s":"S","x":7.95,"y":3.2},{"s":"S","x":7.95,"y":0.44},{"s":"S","x":7.95,"y":1},{"s":"S","x":8.0,"y":794},{"s":"S","x":8.0,"y":7.1},{"s":"S","x":8.1,"y":2.5},{"s":"S","x":8.35,"y":631},{"s":"S","x":8.35,"y":5.6},{"s":"S","x":8.5,"y":3.2},{"s":"S","x":8.7,"y":316},{"s":"S","x":8.7,"y":158},{"s":"S","x":8.7,"y":28},{"s":"S","x":8.7,"y":6.3},{"s":"S","x":8.9,"y":5.6},{"s":"S","x":9.0,"y":4},{"s":"S","x":9.35,"y":398},{"s":"S","x":9.35,"y":282},{"s":"S","x":9.35,"y":7.1},{"s":"S","x":9.9,"y":1.9},{"s":"S","x":9.9,"y":35},{"s":"S","x":10.0,"y":44},{"s":"S","x":10.0,"y":25}
],
"jacobi": [
{"s":"S","x":0.05,"y":0.3},{"s":"S","x":0.05,"y":0.42},{"s":"S","x":0.05,"y":0.55},{"s":"S","x":0.08,"y":0.25},{"s":"S","x":0.08,"y":0.36},{"s":"S","x":0.12,"y":0.2},{"s":"S","x":0.12,"y":0.48},{"s":"S","x":0.15,"y":0.32},{"s":"S","x":0.18,"y":0.15},{"s":"S","x":0.18,"y":0.4},{"s":"S","x":0.22,"y":0.3},{"s":"S","x":0.25,"y":0.38},{"s":"S","x":0.3,"y":0.33},{"s":"S","x":0.35,"y":0.42},{"s":"S","x":0.4,"y":0.3},{"s":"S","x":0.45,"y":0.36},{"s":"S","x":0.5,"y":0.28},{"s":"S","x":0.55,"y":0.4},{"s":"S","x":0.6,"y":0.34},{"s":"S","x":0.65,"y":0.3},{"s":"S","x":0.7,"y":0.45},{"s":"S","x":0.75,"y":0.33},{"s":"S","x":0.8,"y":0.37},{"s":"S","x":0.85,"y":0.3},{"s":"S","x":0.9,"y":0.4},{"s":"S","x":0.95,"y":0.34},{"s":"S","x":1.0,"y":0.3},{"s":"S","x":1.05,"y":0.38},{"s":"S","x":1.1,"y":0.33},{"s":"S","x":1.15,"y":0.42},{"s":"S","x":1.2,"y":0.31},{"s":"S","x":1.25,"y":0.36},{"s":"S","x":1.3,"y":0.34},{"s":"S","x":1.35,"y":0.4},{"s":"S","x":1.4,"y":0.3},{"s":"S","x":1.45,"y":0.37},{"s":"S","x":1.5,"y":0.33},{"s":"S","x":1.6,"y":0.41},{"s":"S","x":1.65,"y":0.31},{"s":"S","x":1.7,"y":0.36},{"s":"S","x":1.8,"y":0.34},{"s":"S","x":1.85,"y":0.45},{"s":"S","x":1.9,"y":0.32},{"s":"S","x":2.0,"y":0.38},{"s":"S","x":2.1,"y":0.34},{"s":"S","x":2.15,"y":0.42},{"s":"S","x":2.2,"y":0.31},{"s":"S","x":2.3,"y":0.37},{"s":"S","x":2.35,"y":0.5},{"s":"S","x":2.4,"y":0.35},{"s":"S","x":2.5,"y":0.33},{"s":"S","x":2.6,"y":0.4},{"s":"S","x":2.7,"y":0.36},{"s":"S","x":2.8,"y":0.32},{"s":"S","x":2.9,"y":0.41},{"s":"S","x":3.0,"y":0.35},{"s":"S","x":3.1,"y":0.38},{"s":"S","x":3.2,"y":0.33},{"s":"S","x":3.3,"y":0.44},{"s":"S","x":3.4,"y":0.36},{"s":"S","x":3.5,"y":0.31},{"s":"S","x":3.6,"y":0.39},{"s":"S","x":3.7,"y":0.34},{"s":"S","x":3.8,"y":0.4},{"s":"S","x":3.9,"y":0.36},{"s":"S","x":4.0,"y":0.42},{"s":"S","x":4.1,"y":0.34},{"s":"S","x":4.2,"y":0.37},{"s":"S","x":4.3,"y":0.35},{"s":"S","x":4.4,"y":0.41},{"s":"S","x":4.5,"y":0.36},{"s":"S","x":4.6,"y":0.38},{"s":"S","x":4.7,"y":0.34},{"s":"S","x":4.8,"y":0.4},{"s":"S","x":4.9,"y":0.37},{"s":"S","x":5.0,"y":0.36},{"s":"S","x":5.1,"y":0.39},{"s":"S","x":5.2,"y":0.35},{"s":"S","x":5.3,"y":0.38},{"s":"S","x":5.4,"y":0.41},{"s":"S","x":5.5,"y":0.36},{"s":"S","x":5.6,"y":0.39},{"s":"S","x":5.7,"y":0.37},{"s":"S","x":5.8,"y":0.42},{"s":"S","x":5.9,"y":0.35},{"s":"S","x":6.0,"y":0.5},{"s":"S","x":6.05,"y":0.4},{"s":"S","x":6.15,"y":0.37},{"s":"S","x":6.3,"y":0.41},{"s":"S","x":6.4,"y":0.36},{"s":"S","x":6.5,"y":0.39},{"s":"S","x":6.6,"y":0.42},{"s":"S","x":6.7,"y":0.37},{"s":"S","x":6.8,"y":0.4},{"s":"S","x":6.9,"y":0.38},{"s":"S","x":7.0,"y":0.41},{"s":"S","x":7.5,"y":0.37},{"s":"S","x":7.55,"y":0.45},{"s":"S","x":7.6,"y":0.55},{"s":"S","x":7.7,"y":0.4},{"s":"S","x":7.8,"y":0.36},{"s":"S","x":8.0,"y":0.39},{"s":"S","x":8.1,"y":0.42},{"s":"S","x":8.2,"y":0.37},{"s":"S","x":8.4,"y":0.4},{"s":"S","x":8.5,"y":0.38},{"s":"S","x":8.6,"y":0.44},{"s":"S","x":8.7,"y":0.39},{"s":"S","x":8.8,"y":0.36},{"s":"S","x":8.85,"y":0.42},{"s":"S","x":9.3,"y":0.89},{"s":"S","x":9.4,"y":0.5},{"s":"S","x":9.45,"y":0.6},{"s":"S","x":9.9,"y":0.89},{"s":"S","x":10.0,"y":0.4},{"s":"S","x":9.95,"y":0.42},
{"s":"S","x":0.05,"y":0.2},{"s":"S","x":0.06,"y":0.15},{"s":"S","x":0.1,"y":0.6},{"s":"S","x":0.08,"y":0.12},{"s":"S","x":0.15,"y":0.5},
{"s":"S","x":0.15,"y":0.063},{"s":"S","x":0.15,"y":0.045},{"s":"S","x":0.15,"y":0.023},{"s":"S","x":0.15,"y":0.0079},{"s":"S","x":0.3,"y":0.056},{"s":"S","x":0.4,"y":0.035},{"s":"S","x":0.5,"y":0.018},{"s":"S","x":0.6,"y":0.01},{"s":"S","x":0.45,"y":0.0126},{"s":"S","x":0.55,"y":0.079},{"s":"S","x":0.71,"y":0.004},{"s":"S","x":0.95,"y":0.072},{"s":"S","x":1.0,"y":0.056},{"s":"S","x":1.05,"y":0.04},{"s":"S","x":1.1,"y":0.028},{"s":"S","x":1.15,"y":0.02},{"s":"S","x":1.2,"y":0.014},{"s":"S","x":1.25,"y":0.01},{"s":"S","x":1.3,"y":0.032},{"s":"S","x":1.35,"y":0.045},{"s":"S","x":1.4,"y":0.022},{"s":"S","x":1.16,"y":0.0059},{"s":"S","x":1.68,"y":0.15},{"s":"S","x":1.6,"y":0.013},{"s":"S","x":1.99,"y":0.015},{"s":"S","x":3.0,"y":0.089},{"s":"S","x":3.57,"y":0.004},{"s":"S","x":3.91,"y":0.06},{"s":"S","x":6.0,"y":0.036},{"s":"S","x":0.8,"y":0.016},{"s":"S","x":0.9,"y":0.009},{"s":"S","x":0.7,"y":0.025},{"s":"S","x":1.3,"y":0.006},{"s":"S","x":0.25,"y":0.1},{"s":"S","x":0.35,"y":0.02}
],
"gmres": [
{"s":"S","x":0.2,"y":6},{"s":"S","x":0.2,"y":9},{"s":"S","x":0.25,"y":7.5},{"s":"S","x":0.3,"y":5.5},{"s":"S","x":0.3,"y":8.5},{"s":"S","x":0.35,"y":10},{"s":"S","x":0.4,"y":6.5},{"s":"S","x":0.45,"y":8},{"s":"S","x":0.5,"y":7},{"s":"S","x":0.5,"y":9.5},{"s":"S","x":0.55,"y":6},{"s":"S","x":0.6,"y":8},{"s":"S","x":0.65,"y":7},{"s":"S","x":0.7,"y":10.5},{"s":"S","x":0.75,"y":6.5},{"s":"S","x":0.8,"y":8},{"s":"S","x":0.85,"y":7},{"s":"S","x":0.9,"y":9},{"s":"S","x":0.95,"y":6},{"s":"S","x":1.0,"y":7.5},{"s":"S","x":1.05,"y":8.5},{"s":"S","x":1.1,"y":6.5},{"s":"S","x":1.15,"y":10},{"s":"S","x":1.2,"y":7},{"s":"S","x":1.3,"y":8},{"s":"S","x":1.35,"y":6.5},{"s":"S","x":1.4,"y":9},{"s":"S","x":1.5,"y":7},{"s":"S","x":1.55,"y":8},{"s":"S","x":1.6,"y":6},{"s":"S","x":1.7,"y":7.5},{"s":"S","x":1.8,"y":9.5},{"s":"S","x":1.85,"y":6.5},{"s":"S","x":1.9,"y":8},{"s":"S","x":2.0,"y":7},{"s":"S","x":2.1,"y":8.5},{"s":"S","x":2.2,"y":6.5},{"s":"S","x":2.3,"y":7.5},{"s":"S","x":2.4,"y":9},{"s":"S","x":2.5,"y":4.5},{"s":"S","x":2.55,"y":3.5},{"s":"S","x":2.6,"y":7},{"s":"S","x":2.7,"y":8},{"s":"S","x":2.8,"y":6.5},{"s":"S","x":2.9,"y":7.5},{"s":"S","x":3.0,"y":9},{"s":"S","x":3.1,"y":7},{"s":"S","x":3.2,"y":8},{"s":"S","x":3.3,"y":6.5},{"s":"S","x":3.4,"y":7.5},{"s":"S","x":3.5,"y":8.5},{"s":"S","x":3.6,"y":7},{"s":"S","x":3.7,"y":6.5},{"s":"S","x":3.8,"y":8},{"s":"S","x":3.9,"y":7.5},{"s":"S","x":4.0,"y":6.8},{"s":"S","x":4.1,"y":8.2},{"s":"S","x":4.2,"y":7},{"s":"S","x":4.3,"y":7.8},{"s":"S","x":4.4,"y":6.6},{"s":"S","x":4.5,"y":8},{"s":"S","x":4.6,"y":7.2},{"s":"S","x":4.7,"y":8.5},{"s":"S","x":4.8,"y":6.8},{"s":"S","x":4.9,"y":7.6},{"s":"S","x":5.0,"y":7},{"s":"S","x":5.1,"y":8},{"s":"S","x":5.2,"y":7.3},{"s":"S","x":5.3,"y":6.7},{"s":"S","x":5.4,"y":7.8},{"s":"S","x":5.5,"y":7.1},{"s":"S","x":5.6,"y":8.3},{"s":"S","x":5.7,"y":6.9},{"s":"S","x":5.8,"y":7.5},{"s":"S","x":5.9,"y":7},{"s":"S","x":6.0,"y":9.5},{"s":"S","x":6.1,"y":7.4},{"s":"S","x":6.2,"y":6.8},{"s":"S","x":6.3,"y":7.9},{"s":"S","x":6.4,"y":7.2},{"s":"S","x":6.5,"y":6.9},{"s":"S","x":6.6,"y":7.6},{"s":"S","x":6.7,"y":7.1},{"s":"S","x":6.8,"y":8},{"s":"S","x":6.9,"y":7.3},{"s":"S","x":7.0,"y":7},{"s":"S","x":7.5,"y":7.4},{"s":"S","x":7.6,"y":8.8},{"s":"S","x":7.65,"y":6.5},{"s":"S","x":7.7,"y":7.5},{"s":"S","x":7.8,"y":6.8},{"s":"S","x":7.9,"y":7.2},{"s":"S","x":8.0,"y":7},{"s":"S","x":8.2,"y":7.5},{"s":"S","x":8.3,"y":6.7},{"s":"S","x":8.5,"y":7.8},{"s":"S","x":8.6,"y":9},{"s":"S","x":8.7,"y":7.2},{"s":"S","x":8.8,"y":6.6},{"s":"S","x":8.85,"y":7.4},{"s":"S","x":9.36,"y":18},{"s":"S","x":9.45,"y":10.5},{"s":"S","x":10.0,"y":18},{"s":"S","x":10.0,"y":8},
{"s":"S","x":0.1,"y":2.5},{"s":"S","x":0.15,"y":1.6},{"s":"S","x":0.2,"y":1.0},{"s":"S","x":0.25,"y":0.63},{"s":"S","x":0.3,"y":2.2},{"s":"S","x":0.35,"y":0.4},{"s":"S","x":0.12,"y":0.25},{"s":"S","x":0.22,"y":0.18},{"s":"S","x":0.4,"y":1.26},{"s":"S","x":0.45,"y":0.79},{"s":"S","x":0.3,"y":0.32},{"s":"S","x":0.18,"y":3.2},{"s":"S","x":0.08,"y":1.3},{"s":"S","x":0.05,"y":0.5},{"s":"S","x":0.1,"y":0.056},{"s":"S","x":0.19,"y":0.02},{"s":"S","x":0.31,"y":0.072},{"s":"S","x":0.5,"y":1.45},{"s":"S","x":0.7,"y":0.023},{"s":"S","x":0.58,"y":0.59},{"s":"S","x":0.85,"y":0.32},{"s":"S","x":0.9,"y":0.14},{"s":"S","x":0.95,"y":0.1},{"s":"S","x":1.0,"y":0.063},{"s":"S","x":1.05,"y":0.035},{"s":"S","x":1.1,"y":0.025},{"s":"S","x":1.15,"y":0.016},{"s":"S","x":1.2,"y":0.011},{"s":"S","x":1.25,"y":0.025},{"s":"S","x":1.3,"y":0.04},{"s":"S","x":1.3,"y":0.079},{"s":"S","x":1.05,"y":0.126},{"s":"S","x":1.1,"y":0.2},{"s":"S","x":1.17,"y":0.0105},{"s":"S","x":1.35,"y":1.45},{"s":"S","x":1.43,"y":0.59},{"s":"S","x":1.65,"y":0.21},{"s":"S","x":1.8,"y":0.21},{"s":"S","x":1.79,"y":1.3},{"s":"S","x":1.98,"y":0.03},{"s":"S","x":2.4,"y":0.02},{"s":"S","x":2.44,"y":0.78},{"s":"S","x":2.9,"y":1.86},{"s":"S","x":3.37,"y":0.25},{"s":"S","x":3.89,"y":0.23},{"s":"S","x":5.4,"y":0.028},{"s":"S","x":6.0,"y":0.068},{"s":"S","x":0.6,"y":0.8},{"s":"S","x":0.75,"y":3},{"s":"S","x":0.4,"y":4},{"s":"S","x":0.15,"y":4.5}
]
},
"hconcat": [
{"width": 233, "height": 170, "title": {"text": "GNP", "offset": -8}, "data": {"name": "gnp"},
 "mark": {"type": "circle", "size": 36, "opacity": 1},
 "encoding": {
  "x": {"field": "x", "type": "quantitative", "scale": {"domain": [-0.42, 10.45], "nice": false, "zero": false}, "axis": {"values": [0, 5, 10], "title": "matrix size / 1e+04"}},
  "y": {"field": "y", "type": "quantitative", "scale": {"type": "log", "domain": [0.001, 100000], "nice": false}, "axis": {"values": [0.001, 0.1, 10, 1000, 100000], "title": "Time (seconds)", "labelExpr": "datum.value < 0.01 ? '10⁻³' : datum.value < 1 ? '10⁻¹' : datum.value < 100 ? '10¹' : datum.value < 10000 ? '10³' : '10⁵'"}},
  "color": {"field": "s", "type": "nominal", "scale": {"domain": ["C", "S"], "range": ["#1f77b4", "#ff7f0e"]}, "legend": {"title": null, "labelExpr": "datum.value == 'C' ? 'Construction' : 'Solution'"}}
 }},
{"width": 233, "height": 170, "title": "ILU", "data": {"name": "ilu"},
 "mark": {"type": "circle", "size": 36, "opacity": 1},
 "encoding": {
  "x": {"field": "x", "type": "quantitative", "scale": {"domain": [-0.42, 10.45], "nice": false, "zero": false}, "axis": {"values": [0, 5, 10], "title": null}},
  "y": {"field": "y", "type": "quantitative", "scale": {"type": "log", "domain": [0.001, 100000], "nice": false}, "axis": {"values": [0.001, 0.1, 10, 1000, 100000], "title": null, "labels": false}},
  "color": {"field": "s", "type": "nominal", "scale": {"domain": ["C", "S"], "range": ["#1f77b4", "#ff7f0e"]}, "legend": {"title": null, "labelExpr": "datum.value == 'C' ? 'Construction' : 'Solution'"}}
 }},
{"width": 233, "height": 170, "title": "AMG", "data": {"name": "amg"},
 "mark": {"type": "circle", "size": 36, "opacity": 1},
 "encoding": {
  "x": {"field": "x", "type": "quantitative", "scale": {"domain": [-0.42, 10.45], "nice": false, "zero": false}, "axis": {"values": [0, 5, 10], "title": null}},
  "y": {"field": "y", "type": "quantitative", "scale": {"type": "log", "domain": [0.001, 100000], "nice": false}, "axis": {"values": [0.001, 0.1, 10, 1000, 100000], "title": null, "labels": false}},
  "color": {"field": "s", "type": "nominal", "scale": {"domain": ["C", "S"], "range": ["#1f77b4", "#ff7f0e"]}, "legend": {"title": null, "labelExpr": "datum.value == 'C' ? 'Construction' : 'Solution'"}}
 }},
{"width": 233, "height": 170, "title": "Jacobi", "data": {"name": "jacobi"},
 "mark": {"type": "circle", "size": 36, "opacity": 1},
 "encoding": {
  "x": {"field": "x", "type": "quantitative", "scale": {"domain": [-0.42, 10.45], "nice": false, "zero": false}, "axis": {"values": [0, 5, 10], "title": null}},
  "y": {"field": "y", "type": "quantitative", "scale": {"type": "log", "domain": [0.001, 100000], "nice": false}, "axis": {"values": [0.001, 0.1, 10, 1000, 100000], "title": null, "labels": false}},
  "color": {"field": "s", "type": "nominal", "scale": {"domain": ["C", "S"], "range": ["#1f77b4", "#ff7f0e"]}, "legend": {"title": null, "labelExpr": "datum.value == 'C' ? 'Construction' : 'Solution'"}}
 }},
{"width": 233, "height": 170, "title": "GMRES as precond", "data": {"name": "gmres"},
 "mark": {"type": "circle", "size": 36, "opacity": 1},
 "encoding": {
  "x": {"field": "x", "type": "quantitative", "scale": {"domain": [-0.42, 10.45], "nice": false, "zero": false}, "axis": {"values": [0, 5, 10], "title": null}},
  "y": {"field": "y", "type": "quantitative", "scale": {"type": "log", "domain": [0.001, 100000], "nice": false}, "axis": {"values": [0.001, 0.1, 10, 1000, 100000], "title": null, "labels": false}},
  "color": {"field": "s", "type": "nominal", "scale": {"domain": ["C", "S"], "range": ["#1f77b4", "#ff7f0e"]}, "legend": {"title": null, "labelExpr": "datum.value == 'C' ? 'Construction' : 'Solution'"}}
 }}
]
}
